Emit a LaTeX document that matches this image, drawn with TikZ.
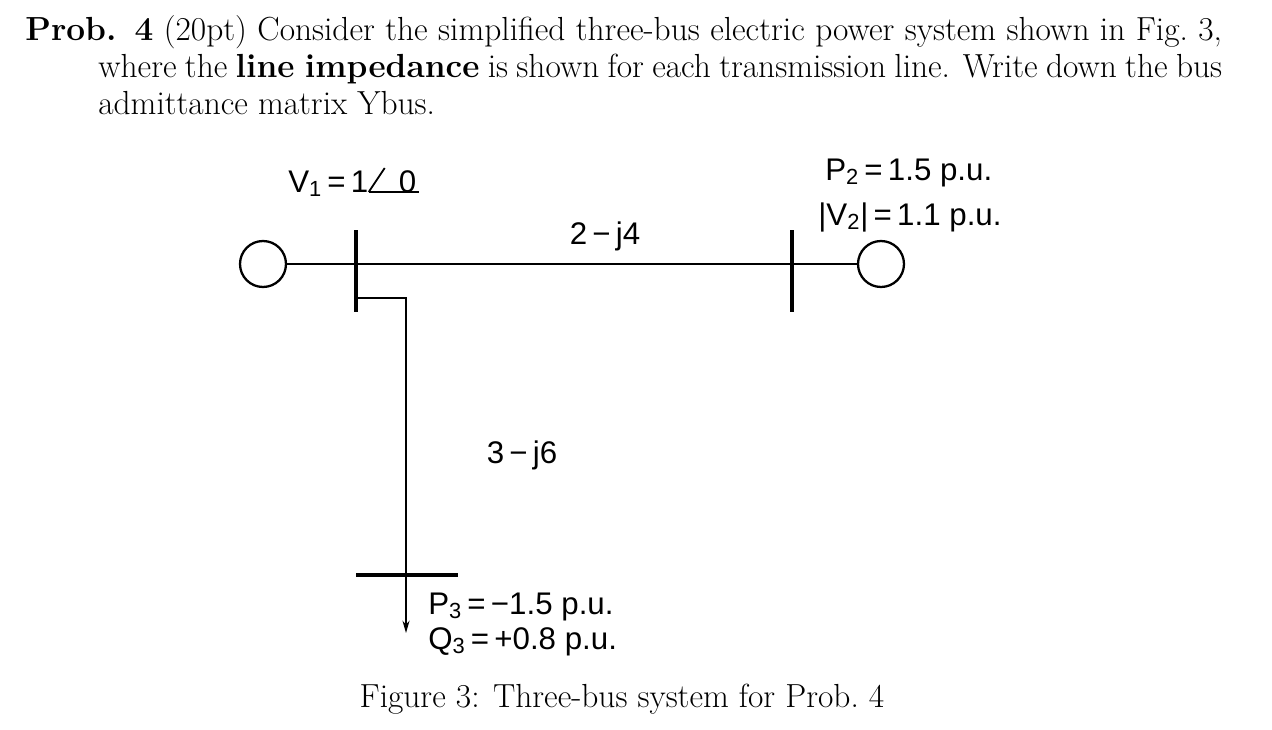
\documentclass[tikz,border=0pt]{standalone}
\usepackage{fontspec}
\newfontfamily\hv{Liberation Sans}
\usetikzlibrary{arrows.meta}
\begin{document}
\begin{tikzpicture}[x=0.02cm,y=-0.02cm,
  wire/.style={line width=1.5pt},
  busbar/.style={line width=2pt},
  lbl/.style={font=\hv\fontsize{17.8}{20}\selectfont, inner sep=0pt},
  body/.style={font=\fontsize{19}{22}\selectfont, inner sep=0pt, anchor=base west}]
\useasboundingbox (0,0) rectangle (1272,730);
\node[body] (t1) at (25,40) {\makebox[23.94cm][s]{\textbf{Prob. 4} (20pt) Consider the simplified three-bus electric power system shown in Fig.~3,}};
\node[body] (t2) at (98,77) {\makebox[22.48cm][s]{where the \textbf{line impedance} is shown for each transmission line. Write down the bus}};
\node[body] (t3) at (98,114) {admittance matrix Ybus.};
% buses
\coordinate (b1t) at (356,230); \coordinate (b1b) at (356,312);
\coordinate (b2t) at (792,230); \coordinate (b2b) at (792,312);
\coordinate (b3l) at (356,575); \coordinate (b3r) at (458,575);
\draw[busbar] (b1t) -- (b1b);
\draw[busbar] (b2t) -- (b2b);
\draw[busbar] (b3l) -- (b3r);
\node[circle, draw, line width=1.3pt, inner sep=0pt, minimum size=0.92cm] (g1) at (263,264) {};
\node[circle, draw, line width=1.3pt, inner sep=0pt, minimum size=0.92cm] (g2) at (881,264) {};
\coordinate (j1) at (356,264);
\coordinate (j2) at (792,264);
\draw[wire] (g1) -- (j1) -- (j2) -- (g2);
\coordinate (k1) at (356,298); \coordinate (k2) at (406,298); \coordinate (k3) at (406,575);
\coordinate (load) at (406,633);
\draw[wire] (k1) -- (k2) -- (k3);
\draw[line width=1pt, -{Stealth[length=7pt,width=4pt]}] (k3) -- (load);
% labels
\node[lbl, anchor=base west] (v1) at (288,192) {V\textsubscript{1}\,=\,1};
\draw[line width=1pt] (v1.base east) ++(0,0) coordinate (ang) -- ++(16,-24);
\draw[line width=1pt] (ang) -- ++(50,0) coordinate (angend);
\node[lbl, anchor=base west] (v1b) at ([xshift=17]v1.base east) {0};
\node[lbl, anchor=base west] (p2) at (825,180) {P\textsubscript{2}\,=\,1.5 p.u.};
\node[lbl, anchor=base west] (v2) at (818,225) {|V\textsubscript{2}|\,=\,1.1 p.u.};
\node[lbl] (z12) at (605,236) {2\,−\,j4};
\node[lbl] (z13) at (522,455) {3\,−\,j6};
\node[lbl, anchor=base west] (p3) at (428,614) {P\textsubscript{3}\,=\,−1.5 p.u.};
\node[lbl, anchor=base west] (q3) at (428,649) {Q\textsubscript{3}\,=\,+0.8 p.u.};
\node[body, anchor=base] (cap) at (622,707) {Figure 3: Three-bus system for Prob.~4};
\end{tikzpicture}
\end{document}
